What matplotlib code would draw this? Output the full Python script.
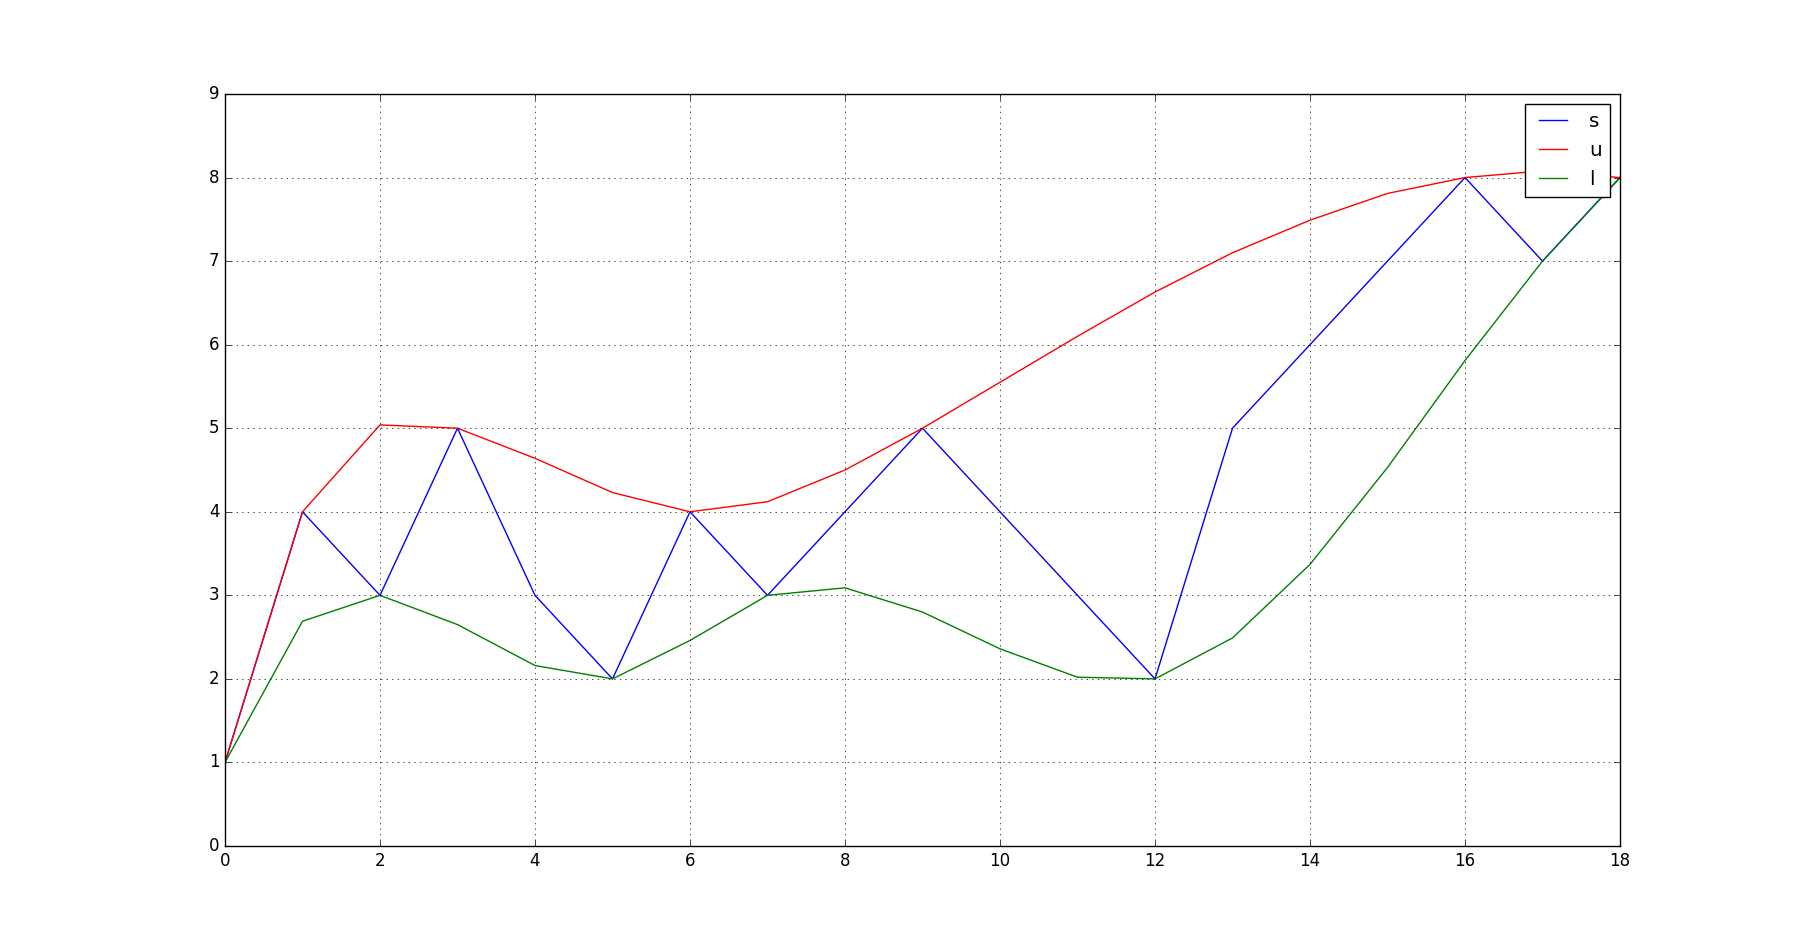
import numpy as np
import matplotlib.pyplot as plt

plt.style.use('classic')

x = np.arange(19)
s = [1, 4, 3, 5, 3, 2, 4, 3, 4, 5, 4, 3, 2, 5, 6, 7, 8, 7, 8]
u = [1, 4, 5.04, 5.0, 4.64, 4.23, 4.0, 4.12, 4.50, 5.0, 5.55, 6.10, 6.63,
     7.10, 7.49, 7.81, 8.0, 8.08, 8.0]
l = [1, 2.69, 3.0, 2.65, 2.16, 2.0, 2.46, 3.0, 3.09, 2.80, 2.36, 2.02, 2.0,
     2.49, 3.37, 4.53, 5.81, 7.0, 8.0]

fig = plt.figure(figsize=(18, 9.4), dpi=100)
ax = fig.add_subplot(111)
ax.plot(x, s, 'b-', label='s')
ax.plot(x, u, 'r-', label='u')
ax.plot(x, l, 'g-', label='l')
ax.set_xlim(0, 18)
ax.set_ylim(0, 9)
ax.grid(True)
ax.legend(loc='upper right')

fig.savefig('out.png', dpi=100)
